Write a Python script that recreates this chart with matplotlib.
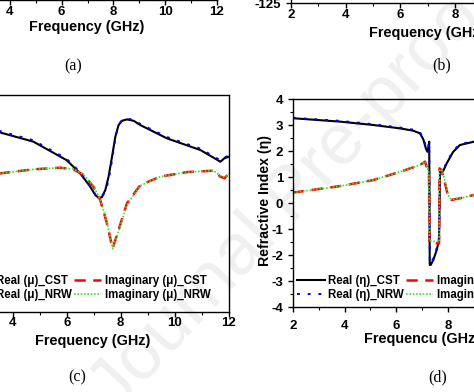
import matplotlib
matplotlib.use("Agg")
import matplotlib.pyplot as plt
from matplotlib.ticker import MultipleLocator

plt.rcParams['font.family'] = ['Liberation Sans', 'DejaVu Sans']
plt.rcParams['font.weight'] = 'bold'
plt.rcParams['axes.unicode_minus'] = False

W, H = 474, 392

# panel (c): permeability
freq_mu = [2.0, 3.0, 3.52, 4.76, 5.99, 6.50, 6.68, 6.87, 7.06, 7.18, 7.30, 7.43, 7.55,
           7.68, 7.80, 7.92, 8.05, 8.23, 8.48, 8.73, 9.72, 10.96, 11.70, 11.85, 12.0]
real_mu_cst = [3.25, 2.90, 2.62, 2.28, 1.60, 1.11, 0.87, 0.62, 0.31, 0.21, 0.23, 0.50, 0.99,
               1.73, 2.46, 2.89, 3.05, 3.10, 3.05, 2.89, 2.40, 1.97, 1.54, 1.67, 1.72]
real_mu_nrw = [3.30, 2.95, 2.67, 2.33, 1.65, 1.15, 0.90, 0.64, 0.33, 0.24, 0.28, 0.42, 0.85,
               1.60, 2.40, 2.90, 3.08, 3.13, 3.09, 2.93, 2.45, 2.02, 1.59, 1.71, 1.75]

freq_mu_im = [2.0, 3.0, 3.52, 4.76, 5.75, 6.25, 6.62, 6.99, 7.24, 7.49, 7.70, 7.92,
              8.23, 8.73, 9.47, 10.47, 11.45, 11.70, 11.85, 12.0]
imag_mu_cst = [0.60, 0.95, 1.11, 1.26, 1.32, 1.26, 1.05, 0.62, 0.13, -0.73, -1.66, -0.98,
               0.00, 0.68, 0.99, 1.16, 1.21, 0.99, 0.93, 1.09]
imag_mu_nrw = [0.60, 0.95, 1.11, 1.26, 1.32, 1.27, 1.07, 0.64, 0.16, -0.70, -1.66, -1.02,
               -0.05, 0.66, 0.99, 1.16, 1.21, 1.02, 0.96, 1.09]

# panel (d): refractive index
freq_n = [2.0, 3.82, 5.11, 6.15, 6.66, 6.92, 7.05, 7.15, 7.21, 7.26, 7.28, 7.30, 7.34,
          7.44, 7.57, 7.66, 7.70, 7.76, 7.83, 7.96, 8.21, 8.47, 9.02, 10.0, 11.0, 12.0]
real_n_cst = [3.26, 3.13, 3.00, 2.87, 2.78, 2.68, 2.45, 2.10, 1.97, 2.20, 2.36, -2.38, -2.38,
              -2.19, -1.81, -1.42, 1.20, 1.22, 1.25, 1.53, 1.97, 2.23, 2.36, 2.45, 2.50, 2.52]
real_n_nrw = [3.28, 3.16, 3.03, 2.90, 2.82, 2.72, 2.50, 2.18, 2.05, 2.25, 2.30, -2.30, -2.33,
              -2.12, -1.74, -1.36, 1.10, 1.18, 1.28, 1.58, 2.01, 2.26, 2.38, 2.47, 2.52, 2.54]

freq_n_im = [2.0, 3.82, 5.11, 6.15, 6.92, 7.12, 7.18, 7.24, 7.27, 7.29, 7.66, 7.68, 7.76,
             7.89, 8.02, 8.15, 8.47, 9.02, 10.0, 11.0, 12.0]
imag_n_cst = [0.40, 0.65, 0.88, 1.20, 1.46, 1.59, 1.40, 1.14, 1.10, -1.55, -1.55, 1.33, 1.27,
              0.76, 0.24, 0.12, 0.18, 0.31, 0.45, 0.55, 0.65]
imag_n_nrw = [0.40, 0.65, 0.88, 1.20, 1.46, 1.59, 1.45, 1.25, 1.15, -1.45, -1.50, 1.25, 1.30,
              0.85, 0.30, 0.13, 0.18, 0.31, 0.45, 0.55, 0.65]


def px_axes(fig, left, top, right, bottom):
    return fig.add_axes([left / W, 1 - bottom / H, (right - left) / W, (bottom - top) / H])


def style(ax, pad):
    ax.set_xlim(2, 12)
    ax.xaxis.set_major_locator(MultipleLocator(2))
    ax.xaxis.set_minor_locator(MultipleLocator(1))
    ax.tick_params(axis='both', which='major', direction='out', length=3.5, width=1,
                   labelsize=9.5, top=False, right=False)
    ax.tick_params(axis='x', which='major', pad=pad)
    ax.tick_params(axis='both', which='minor', direction='out', length=2, width=0.8,
                   top=False, right=False)
    for lab in ax.get_xticklabels() + ax.get_yticklabels():
        lab.set_fontweight('bold')
    for s in ax.spines.values():
        s.set_linewidth(1.0)
    ax.patch.set_alpha(0)


def add_legend(fig, handles, x, y):
    fig.legend(handles=handles, ncol=2, frameon=False,
               loc='upper left', bbox_to_anchor=(x / W, 1 - y / H),
               prop={'weight': 'bold', 'size': 8.3}, handlelength=2.4, handletextpad=0.3,
               columnspacing=0.15, labelspacing=0.15, borderpad=0, borderaxespad=0)


fig = plt.figure(figsize=(W / 100, H / 100), dpi=100)

# watermark
fig.text(0.62, 0.5, "Journal Pre-proof", fontsize=52, fontweight='normal', color='#f0f0f0',
         rotation=47, ha='center', va='center', zorder=-10)

# (a) only the bottom edge is visible
ax_a = px_axes(fig, -42, -220, 217, 0)
style(ax_a, 0.6)
ax_a.set_ylim(0, 1)
ax_a.set_yticks([])

# (b) only the bottom edge is visible
ax_b = px_axes(fig, 291, -220, 564, 3)
style(ax_b, 1.0)
ax_b.set_ylim(-125, 50)
ax_b.set_yticks([-125])

# (c) permeability
ax_c = px_axes(fig, -41, 95, 228.5, 312)
style(ax_c, 0.2)
ax_c.set_ylim(-4, 4)
l1, = ax_c.plot(freq_mu, real_mu_cst, color='black', lw=1.5, label='Real (\u03bc)_CST')
l2, = ax_c.plot(freq_mu_im, imag_mu_cst, color='red', lw=1.8, ls=(0, (4.5, 3)),
                label='Imaginary (\u03bc)_CST')
l3, = ax_c.plot(freq_mu, real_mu_nrw, color='blue', lw=1.4, ls=(0, (1.5, 4)),
                label='Real (\u03bc)_NRW')
l4, = ax_c.plot(freq_mu_im, imag_mu_nrw, color='#33e633', lw=1.2, ls=(0, (1, 1)),
                label='Imaginary (\u03bc)_NRW')
add_legend(fig, [l1, l3, l2, l4], -35, 275)

# (d) refractive index
ax_d = px_axes(fig, 293, 99, 551, 307)
style(ax_d, 6.0)
ax_d.set_ylim(-4, 4)
ax_d.yaxis.set_minor_locator(MultipleLocator(0.5))
ax_d.set_yticks(range(-4, 5))
ax_d.set_yticklabels([str(v) for v in range(-4, 5)], fontweight='bold', fontsize=9.5)
m1, = ax_d.plot(freq_n, real_n_cst, color='black', lw=1.5, label='Real (\u03b7)_CST')
m2, = ax_d.plot(freq_n_im, imag_n_cst, color='red', lw=1.8, ls=(0, (4.5, 3)),
                label='Imaginary (\u03b7)_CST')
m3, = ax_d.plot(freq_n, real_n_nrw, color='blue', lw=1.4, ls=(0, (1.5, 4)),
                label='Real (\u03b7)_NRW')
m4, = ax_d.plot(freq_n_im, imag_n_nrw, color='#33e633', lw=1.2, ls=(0, (1, 1)),
                label='Imaginary (\u03b7)_NRW')
add_legend(fig, [m1, m3, m2, m4], 297, 275)
fig.text(265.5 / W, 1 - 200 / H, "Refractive Index (\u03b7)", rotation=90, ha='center',
         va='center', fontsize=10.2, fontweight='bold')

# axis titles
fig.text(87 / W, 1 - 27 / H, "Frequency (GHz)", ha='center', va='center', fontsize=10.4,
         fontweight='bold')
fig.text(427 / W, 1 - 33 / H, "Frequency (GHz)", ha='center', va='center', fontsize=10.4,
         fontweight='bold')
fig.text(93 / W, 1 - 341 / H, "Frequency (GHz)", ha='center', va='center', fontsize=10.4,
         fontweight='bold')
fig.text(422 / W, 1 - 339 / H, "Frequencu (GHz)", ha='center', va='center', fontsize=10.4,
         fontweight='bold')

# panel captions
for lab, x, y in [("(a)", 73, 66), ("(b)", 442, 65), ("(c)", 77, 377), ("(d)", 438, 377)]:
    fig.text(x / W, 1 - y / H, lab, ha='center', va='center', fontsize=11.5,
             fontweight='normal', family='Liberation Serif')

fig.savefig("out.png", dpi=100)
